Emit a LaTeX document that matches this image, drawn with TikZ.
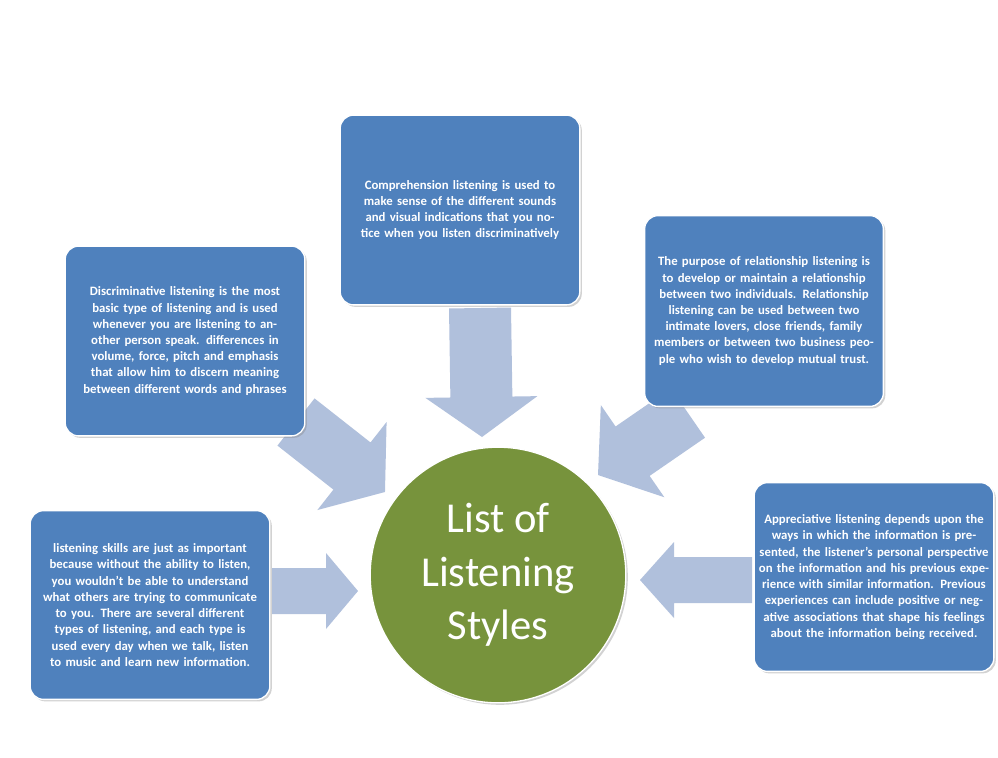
\documentclass[tikz,border=0pt]{standalone}
\usepackage{fontspec}
\setmainfont{Carlito}
\usetikzlibrary{shadows}
\definecolor{boxc}{HTML}{4F81BD}
\definecolor{circc}{HTML}{77933C}
\definecolor{arrowc}{HTML}{B0C0DC}
\newcommand\barrow[7]{%
\pgfmathsetmacro\ang{atan2(-(#4-#2),#3-#1)}%
\pgfmathsetmacro\len{veclen(#3-#1,#4-#2)}%
\begin{scope}[shift={(#1,#2)},rotate=\ang]
\fill[arrowc] (0,-#5) -- (\len-#7,-#5) -- (\len-#7,-#6) -- (\len,0) -- (\len-#7,#6) -- (\len-#7,#5) -- (0,#5) -- cycle;
\end{scope}}
\begin{document}
\begin{tikzpicture}[x=0.0264cm,y=-0.0264cm,
 tbox/.style={fill=boxc,draw=white,line width=1pt,rounded corners=10pt,drop shadow={opacity=0.35,shadow xshift=1.5pt,shadow yshift=-1.5pt},
  text=white,font=\bfseries\fontsize{9.6}{12.2}\selectfont,align=center,inner sep=0pt}]
\useasboundingbox[fill=white] (0,0) rectangle (998,757);
% arrows
\barrow{480}{308}{482}{437}{31}{56}{40}
\barrow{296}{422}{385}{492}{30}{56}{42}
\barrow{688}{413}{598}{475}{30}{56}{42}
\barrow{272}{591}{358}{591}{23}{38}{32}
\barrow{752}{580}{640}{580}{23}{38}{34}
% boxes
\node[tbox,minimum width=240*0.75pt,minimum height=190*0.75pt,text width=172pt] (top) at (460,210)
 {Comprehension listening is used to make sense of the different sounds and visual indications that you notice when you listen discriminatively};
\node[tbox,minimum width=240*0.75pt,minimum height=190*0.75pt,text width=172pt] (ul) at (185,341)
 {Discriminative listening is the most basic type of listening and is used whenever you are listening to another person speak. differences in volume, force, pitch and emphasis that allow him to discern meaning between different words and phrases};
\node[tbox,minimum width=239*0.75pt,minimum height=191*0.75pt,text width=172pt] (ur) at (764,311)
 {The purpose of relationship listening is to develop or maintain a relationship between two individuals. Relationship listening can be used between two intimate lovers, close friends, family members or between two business people who wish to develop mutual trust.};
\node[tbox,minimum width=240*0.75pt,minimum height=189*0.75pt,text width=176pt] (ll) at (150,605)
 {listening skills are just as important because without the ability to listen, you wouldn't be able to understand what others are trying to communicate to you. There are several different types of listening, and each type is used every day when we talk, listen to music and learn new information.};
\node[tbox,minimum width=240*0.75pt,minimum height=189*0.75pt,text width=174pt] (lr) at (874,577)
 {Appreciative listening depends upon the ways in which the information is presented, the listener's personal perspective on the information and his previous experience with similar information. Previous experiences can include positive or negative associations that shape his feelings about the information being received.};
\node[circle,fill=circc,draw=white,line width=1pt,minimum size=256*0.75pt,inner sep=0pt,
 drop shadow={opacity=0.35,shadow xshift=1.5pt,shadow yshift=-1.5pt},
 text=white,align=center,font=\fontsize{32}{40}\selectfont] (c) at (498,575) {List of\\Listening\\Styles};
\end{tikzpicture}
\end{document}
